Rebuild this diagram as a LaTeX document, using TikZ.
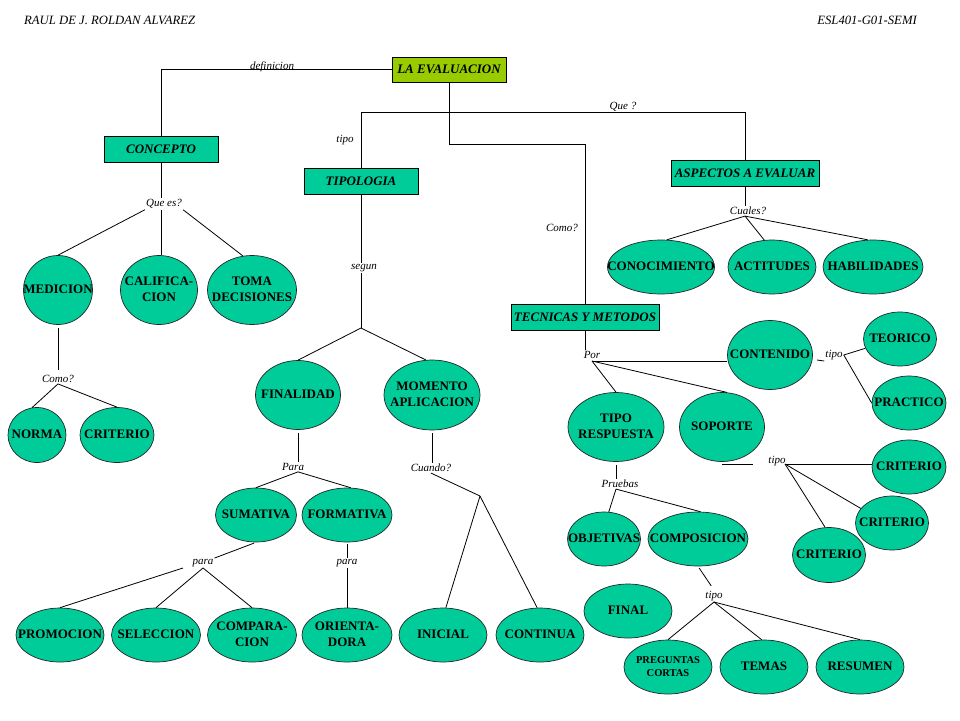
\documentclass[tikz,border=0pt]{standalone}
\usepackage{fontspec}
\setmainfont{Liberation Serif}
\usetikzlibrary{shapes.geometric}
\definecolor{tealg}{HTML}{00CC99}
\definecolor{limeg}{HTML}{99CC00}
\newcommand\elltext[1]{\makebox[0pt]{\raisebox{-1.5pt}{\begin{tabular}{@{}c@{}}#1\end{tabular}}}}
\begin{document}
\begin{tikzpicture}[x=1pt,y=-1pt,
  ell/.style={ellipse, draw=black!85, line width=0.7pt, fill=tealg, inner sep=0pt, font=\fontsize{13}{16}\selectfont\bfseries},
  smalltxt/.style={font=\fontsize{10.5}{13}\selectfont\bfseries},
  rbox/.style={rectangle, draw=black, line width=0.8pt, fill=tealg, inner sep=0pt, font=\fontsize{13}{15}\selectfont\bfseries\itshape},
  lab/.style={inner sep=1pt, font=\fontsize{11}{13}\selectfont\itshape},
  hdr/.style={inner sep=0pt, font=\fontsize{12.7}{15}\selectfont\itshape},
  conn/.style={draw=black, line width=0.8pt}]
\useasboundingbox (0,0) rectangle (960,720);
\fill[white] (0,0) rectangle (960,720);

% headers
\node[hdr, anchor=base west] (author) at (24,24) {RAUL DE J. ROLDAN ALVAREZ};
\node[hdr, anchor=base east] (code) at (917,24) {ESL401-G01-SEMI};

% boxes
\node[rbox, fill=limeg, minimum width=114pt, minimum height=25pt] (eval) at (449,69.5) {LA EVALUACION};
\node[rbox, minimum width=114pt, minimum height=26pt] (concepto) at (161,149) {CONCEPTO};
\node[rbox, minimum width=114pt, minimum height=26pt] (tipologia) at (361,181) {TIPOLOGIA};
\node[rbox, minimum width=148pt, minimum height=26pt] (aspectos) at (745,173) {ASPECTOS A EVALUAR};
\node[rbox, minimum width=148pt, minimum height=26pt] (tecnicas) at (585,317) {TECNICAS Y METODOS};

% ellipses
\node[ell, minimum width=69pt, minimum height=69pt] (med) at (58,290) {\elltext{MEDICION}};
\node[ell, minimum width=77pt, minimum height=69pt] (cal) at (159,290) {\elltext{CALIFICA-\\CION}};
\node[ell, minimum width=89pt, minimum height=69pt] (toma) at (252,290) {\elltext{TOMA\\DECISIONES}};
\node[ell, minimum width=58pt, minimum height=55pt] (norma) at (37,435) {\elltext{NORMA}};
\node[ell, minimum width=74pt, minimum height=55pt] (crit0) at (117,435) {\elltext{CRITERIO}};
\node[ell, minimum width=85pt, minimum height=69pt] (fin) at (298,395) {\elltext{FINALIDAD}};
\node[ell, minimum width=96pt, minimum height=70pt] (mom) at (432,395) {\elltext{MOMENTO\\APLICACION}};
\node[ell, minimum width=81pt, minimum height=54pt] (sum) at (256,515) {\elltext{SUMATIVA}};
\node[ell, minimum width=90pt, minimum height=54pt] (form) at (347,515) {\elltext{FORMATIVA}};
\node[ell, minimum width=88pt, minimum height=54pt] (prom) at (60,635) {\elltext{PROMOCION}};
\node[ell, minimum width=89pt, minimum height=54pt] (sel) at (156,635) {\elltext{SELECCION}};
\node[ell, minimum width=89pt, minimum height=54pt] (comp0) at (252,635) {\elltext{COMPARA-\\CION}};
\node[ell, minimum width=90pt, minimum height=54pt] (ori) at (347,635) {\elltext{ORIENTA-\\DORA}};
\node[ell, minimum width=88pt, minimum height=54pt] (ini) at (443,635) {\elltext{INICIAL}};
\node[ell, minimum width=88pt, minimum height=54pt] (continua) at (540,635) {\elltext{CONTINUA}};
\node[ell, minimum width=107pt, minimum height=54pt] (conoc) at (661,267) {\elltext{CONOCIMIENTO}};
\node[ell, minimum width=88pt, minimum height=54pt] (act) at (772,267) {\elltext{ACTITUDES}};
\node[ell, minimum width=100pt, minimum height=54pt] (hab) at (873,267) {\elltext{HABILIDADES}};
\node[ell, minimum width=85pt, minimum height=69pt] (contenido) at (770,355) {\elltext{CONTENIDO}};
\node[ell, minimum width=73pt, minimum height=54pt] (teo) at (900,339) {\elltext{TEORICO}};
\node[ell, minimum width=74pt, minimum height=54pt] (pra) at (909,403) {\elltext{PRACTICO}};
\node[ell, minimum width=96pt, minimum height=69pt] (tr) at (616,427) {\elltext{TIPO\\RESPUESTA}};
\node[ell, minimum width=85pt, minimum height=69pt] (sop) at (722,427) {\elltext{SOPORTE}};
\node[ell, minimum width=74pt, minimum height=54pt] (cr1) at (909,467) {\elltext{CRITERIO}};
\node[ell, minimum width=73pt, minimum height=54pt] (cr2) at (892,523) {\elltext{CRITERIO}};
\node[ell, minimum width=73pt, minimum height=55pt] (cr3) at (829,555) {\elltext{CRITERIO}};
\node[ell, minimum width=73pt, minimum height=54pt] (obj) at (604,539) {\elltext{OBJETIVAS}};
\node[ell, minimum width=100pt, minimum height=54pt] (comp) at (698,539) {\elltext{COMPOSICION}};
\node[ell, minimum width=88pt, minimum height=54pt] (final) at (628,611) {\elltext{FINAL}};
\node[ell, smalltxt, minimum width=88pt, minimum height=54pt] (preg) at (668,667) {\elltext{PREGUNTAS\\CORTAS}};
\node[ell, minimum width=88pt, minimum height=54pt] (temas) at (764,667) {\elltext{TEMAS}};
\node[ell, minimum width=88pt, minimum height=54pt] (res) at (860,667) {\elltext{RESUMEN}};

% labels
\node[lab] (ldef) at (272,67) {definicion};
\node[lab] (ltipo1) at (345,140) {tipo};
\node[lab] (lque) at (623,107) {Que ?};
\node[lab] (lcomo0) at (562,228) {Como?};
\node[lab] (lqe) at (164,204) {Que es?};
\node[lab] (lcomo1) at (58,379) {Como?};
\node[lab] (lseg) at (364,268) {segun};
\node[lab] (lpara0) at (293,467) {Para};
\node[lab] (lcuando) at (431,468) {Cuando?};
\node[lab] (lpara1) at (203,563) {para};
\node[lab] (lpara2) at (347,563) {para};
\node[lab] (lcual) at (748,211) {Cuales?};
\node[lab] (lpor) at (592,355) {Por};
\node[lab] (ltipoc) at (834,355) {tipo};
\node[lab] (ltipos) at (777,461) {tipo};
\node[lab] (lprueb) at (620,484) {Pruebas};
\node[lab] (ltipok) at (714,596) {tipo};

% helper coordinates
\coordinate (h144) at (0,144);
\coordinate (h112) at (0,112);
\coordinate (b1) at (361,328);
\coordinate (b2) at (480,496);
\coordinate (p1l) at (183,568);
\coordinate (pr) at (592,361);
\coordinate (tc1) at (817,360);
\coordinate (ts) at (785,464);
\coordinate (s2) at (753,464);

% top connectors
\draw[conn] (eval.west) -| (concepto.north);
\draw[conn] (eval.south) |- (tecnicas.north |- h144) -- (tecnicas.north);
\draw[conn] (tipologia.north) |- (aspectos.north |- h112) -- (aspectos.north);

% concepto
\draw[conn] (concepto.south) -- (concepto.south |- lqe.north);
\draw[conn] (concepto.south |- lqe.south) -- (concepto.south |- cal.north);
\draw[conn] (lqe.south west) -- (med.north);
\draw[conn] (lqe.south east) -- (toma.105);

% medicion
\draw[conn, shorten <=3pt, shorten >=4pt] (med.south) -- (lcomo1.north);
\draw[conn] (lcomo1.south) -- (norma.100);
\draw[conn] (lcomo1.south) -- (crit0.north);

% tipologia
\draw[conn] (tipologia.south) -- (tipologia.south |- lseg.north);
\draw[conn] (tipologia.south |- lseg.south) -- (b1);
\draw[conn] (b1) -- (fin.north);
\draw[conn] (b1) -- (mom.100);

% finalidad
\draw[conn, shorten <=3pt] (fin.south) -- (fin.south |- lpara0.north);
\draw[conn] (fin.south |- lpara0.south) -- (sum.north);
\draw[conn] (fin.south |- lpara0.south) -- (form.82);

% momento
\draw[conn, shorten <=3pt] (mom.south) -- (mom.south |- lcuando.north);
\draw[conn] (lcuando.south) -- (b2);
\draw[conn] (b2) -- (ini.84);
\draw[conn] (b2) -- (continua.96);

% sumativa / formativa
\draw[conn, shorten <=2pt] (sum.south) -- (lpara1.north east);
\draw[conn] (p1l) -- (prom.north);
\draw[conn] (lpara1.south) -- (sel.north);
\draw[conn] (lpara1.south) -- (comp0.north);
\draw[conn, shorten <=2pt] (form.south) -- (form.south |- lpara2.north);
\draw[conn] (form.south |- lpara2.south) -- (ori.north);

% aspectos
\draw[conn] (aspectos.south) -- (aspectos.south |- lcual.north);
\draw[conn] (aspectos.south |- lcual.south) -- (conoc.78);
\draw[conn] (aspectos.south |- lcual.south) -- (act.106);
\draw[conn] (aspectos.south |- lcual.south) -- (hab.101);

% tecnicas
\draw[conn] (tecnicas.south) -- (tecnicas.south |- lpor.north);
\draw[conn] (pr) -- (pr -| contenido.west);
\draw[conn] (pr) -- (tr.north);
\draw[conn] (pr) -- (sop.82);

% contenido
\draw[conn] (tc1) -- (ltipoc.south west);
\draw[conn] (ltipoc.east) -- (teo.195);
\draw[conn] (ltipoc.east) -- (pra.west);

% soporte
\draw[conn] (sop.south |- ts) -- (s2);
\draw[conn] (ts) -- (ts -| cr1.west);
\draw[conn] (ts) -- (cr2.155);
\draw[conn] (ts) -- (cr3.98);

% tipo respuesta
\draw[conn, shorten <=3pt] (tr.south) -- (tr.south |- lprueb.north);
\draw[conn] (tr.south |- lprueb.south) -- (obj.80);
\draw[conn] (tr.south |- lprueb.south) -- (comp.85);

% composicion
\draw[conn, shorten <=2pt, shorten >=5pt] (comp.south) -- (ltipok.north);
\draw[conn] (ltipok.south) -- (preg.north);
\draw[conn] (ltipok.south) -- (temas.95);
\draw[conn] (ltipok.south) -- (res.north);
\end{tikzpicture}
\end{document}
